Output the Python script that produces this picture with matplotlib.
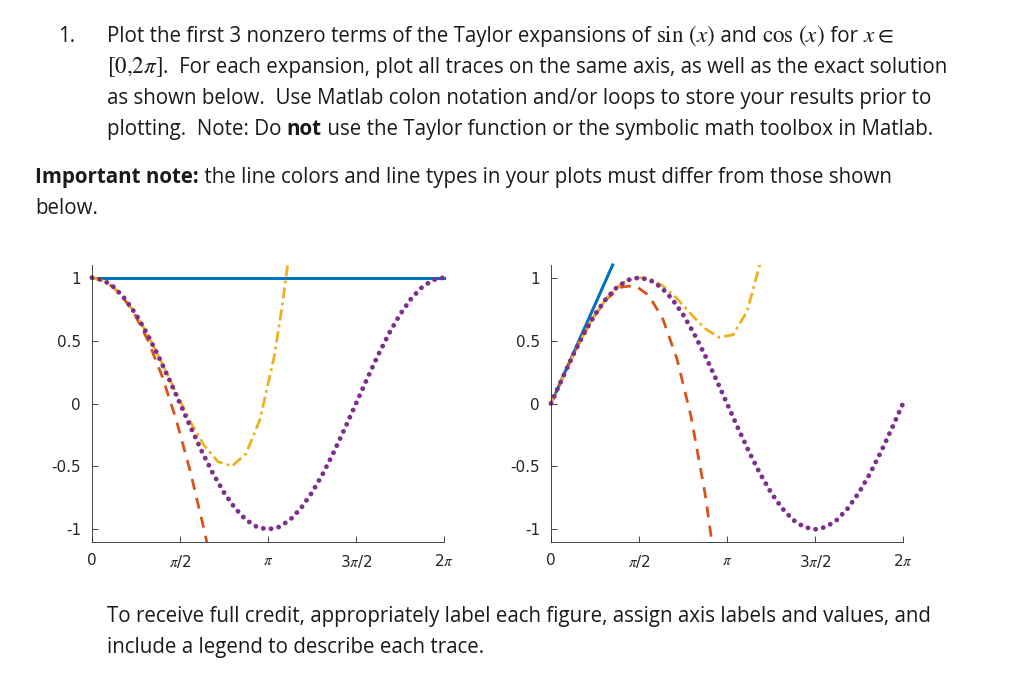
import numpy as np
import matplotlib.pyplot as plt

plt.rcParams['mathtext.fontset'] = 'stix'

# exact curves sampled at k*pi/16, k = 0..32
x_exact = [k * np.pi / 16 for k in range(33)]
cos_exact = [1, .981, .924, .831, .707, .556, .383, .195, 0, -.195, -.383, -.556, -.707, -.831,
             -.924, -.981, -1, -.981, -.924, -.831, -.707, -.556, -.383, -.195, 0, .195, .383,
             .556, .707, .831, .924, .981, 1]
sin_exact = [0, .195, .383, .556, .707, .831, .924, .981, 1, .981, .924, .831, .707, .556, .383,
             .195, 0, -.195, -.383, -.556, -.707, -.831, -.924, -.981, -1, -.981, -.924, -.831,
             -.707, -.556, -.383, -.195, 0]

# cos expansions
cos1_x = [0, 6.2832]
cos1_y = [1, 1]
cos2_x = [0, .25, .5, .75, 1, 1.25, 1.5, 1.75, 2.0, 2.1]
cos2_y = [1, .969, .875, .719, .5, .219, -.125, -.531, -1.0, -1.205]
cos3_x = [0, .25, .5, .75, 1, 1.25, 1.5, 1.75, 2, 2.25, 2.5, 2.75, 3.0, 3.25, 3.4, 3.5]
cos3_y = [1, .969, .878, .732, .542, .320, .086, -.140, -.333, -.463, -.497, -.398, -.125,
          .368, .79, 1.128]

# sin expansions
sin1_x = [0, 1.1]
sin1_y = [0, 1.1]
sin2_x = [0, .25, .5, .75, 1, 1.25, 1.5, 1.75, 2, 2.25, 2.5, 2.75, 3.0]
sin2_y = [0, .247, .479, .680, .833, .924, .938, .857, .667, .352, -.104, -.716, -1.5]
sin3_x = [0, .25, .5, .75, 1, 1.25, 1.5, 1.75, 2, 2.25, 2.5, 2.75, 3.0, 3.25, 3.5, 3.75]
sin3_y = [0, .247, .479, .682, .842, .949, 1.001, .994, .933, .833, .710, .595, .525, .546,
          .731, 1.141]

xticks = [0, np.pi / 2, np.pi, 3 * np.pi / 2, 2 * np.pi]
xticklabels = ['0', r'$\pi$/2', r'$\pi$', r'3$\pi$/2', r'2$\pi$']
yticks = [-1, -0.5, 0, 0.5, 1]
yticklabels = ['-1', '-0.5', '0', '0.5', '1']

blue, red, yellow, purple = '#0072BD', '#D95319', '#EDB120', '#7E2F8E'

fig = plt.figure(figsize=(10.24, 6.8), dpi=100)


def setup(ax):
    ax.set_xlim(0, 2 * np.pi)
    ax.set_ylim(-1.1, 1.1)
    for s in ['top', 'right']:
        ax.spines[s].set_visible(False)
    for s in ['left', 'bottom']:
        ax.spines[s].set_color('#262626')
        ax.spines[s].set_linewidth(0.6)
    ax.set_xticks(xticks, xticklabels)
    ax.set_yticks(yticks, yticklabels)
    ax.tick_params(direction='in', length=4, width=0.6, colors='#262626', labelsize=11,
                   pad=8)


ax1 = fig.add_axes([92 / 1024, 138 / 680, 352 / 1024, 277 / 680])
setup(ax1)
ax1.plot(cos1_x, cos1_y, color=blue, lw=2.2, clip_on=False)
ax1.plot(cos2_x, cos2_y, color=red, lw=2, ls=(0, (4, 3)))
ax1.plot(cos3_x, cos3_y, color=yellow, lw=2, ls=(0, (4, 1.5, 1, 1.5)))
ax1.plot(x_exact, cos_exact, color=purple, lw=3.5, ls=(0, (0.01, 1.6)),
         dash_capstyle='round', clip_on=False)

ax2 = fig.add_axes([551 / 1024, 138 / 680, 352 / 1024, 277 / 680])
setup(ax2)
ax2.plot(sin1_x, sin1_y, color=blue, lw=2.2, clip_on=False)
ax2.plot(sin2_x, sin2_y, color=red, lw=2, ls=(0, (4, 3)))
ax2.plot(sin3_x, sin3_y, color=yellow, lw=2, ls=(0, (4, 1.5, 1, 1.5)))
ax2.plot(x_exact, sin_exact, color=purple, lw=3.5, ls=(0, (0.01, 1.6)),
         dash_capstyle='round', clip_on=False)

# document text, placed segment by segment
renderer = fig.canvas.get_renderer()
FS = 14.8
FAM = 'Open Sans'


def line(x_px, y_px, segs):
    x = x_px
    for s, bold in segs:
        size = FS * 1.12 if s.startswith('$') else FS
        t = fig.text(x / 1024, 1 - y_px / 680, s, fontsize=size, family=FAM,
                     weight='bold' if bold else 'normal', va='baseline', color='#1a1a1a')
        x += t.get_window_extent(renderer).width


line(58, 42, [('1.', False)])
line(107, 42, [('Plot the first 3 nonzero terms of the Taylor expansions of ', False),
               (r'$\sin\,(x)$', False), (' and ', False), (r'$\cos\,(x)$', False),
               (' for ', False), (r'$x \in$', False)])
line(107, 73, [(r'$[0{,}2\pi]$', False),
               ('.  For each expansion, plot all traces on the same axis, as well as the exact solution', False)])
line(107, 104, [('as shown below.  Use Matlab colon notation and/or loops to store your results prior to', False)])
line(107, 135, [('plotting.  Note: Do ', False), ('not', True),
                (' use the Taylor function or the symbolic math toolbox in Matlab.', False)])
line(35, 183, [('Important note:', True),
               (' the line colors and line types in your plots must differ from those shown', False)])
line(35, 214, [('below.', False)])
line(107, 622, [('To receive full credit, appropriately label each figure, assign axis labels and values, and', False)])
line(107, 653, [('include a legend to describe each trace.', False)])

fig.savefig('out.png', dpi=100)
